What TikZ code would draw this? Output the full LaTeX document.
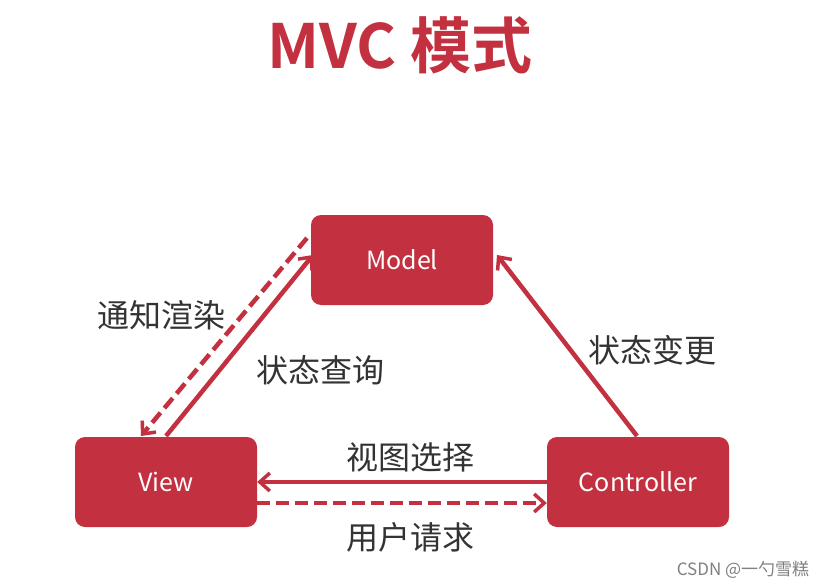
\documentclass[tikz,border=0pt]{standalone}
\usepackage{fontspec}
\newfontfamily\cjk{Noto Sans CJK SC}
\newfontfamily\cjkb{Noto Sans CJK SC Bold}
\usetikzlibrary{arrows.meta}
\definecolor{mred}{HTML}{C3303F}
\definecolor{tgray}{HTML}{333333}
\begin{document}
\begin{tikzpicture}[x=1pt,y=-1pt,
  box/.style={draw=none,fill=mred,rounded corners=10pt,minimum width=182pt,minimum height=90pt,text=white,font=\cjk\fontsize{25}{28}\selectfont},
  conn/.style={mred,line width=4.5pt,-{Straight Barb[length=10pt,width=18pt,line width=3.5pt]}},
  dconn/.style={conn,dash pattern=on 13pt off 6pt},
  lbl/.style={text=tgray,font=\cjk\fontsize{32}{36}\selectfont}]
\useasboundingbox (0,0) rectangle (826,588);
\fill[white] (0,0) rectangle (826,588);
\node[text=mred,font=\cjkb\fontsize{61}{70}\selectfont] (title) at (400,45) {MVC 模式};
\node[box] (model) at (402,260) {Model};
\node[box] (view) at (166,482) {View};
\node[box] (ctrl) at (638,482) {Controller};
\coordinate (m1) at (307,238);
\coordinate (v1) at (141,436);
\coordinate (v2) at (166,436);
\coordinate (m2) at (313,255);
\coordinate (c1) at (637,436);
\coordinate (m3) at (497,255);
\draw[dconn] (m1) -- (v1);
\draw[conn] (v2) -- (m2);
\draw[conn] (c1) -- (m3);
\draw[conn] (ctrl.west |- 0,482) -- (view.east |- 0,482);
\draw[dconn] (view.east |- 0,503) -- (ctrl.west |- 0,503);
\node[lbl] (l1) at (161,315) {通知渲染};
\node[lbl] (l2) at (320,370) {状态查询};
\node[lbl] (l3) at (652,350) {状态变更};
\node[lbl] (l4) at (410,457) {视图选择};
\node[lbl] (l5) at (410,537) {用户请求};
\node[text=gray,font=\cjk\fontsize{17}{19}\selectfont] (wm) at (743,570) {CSDN @一勺雪糕};
\end{tikzpicture}
\end{document}
